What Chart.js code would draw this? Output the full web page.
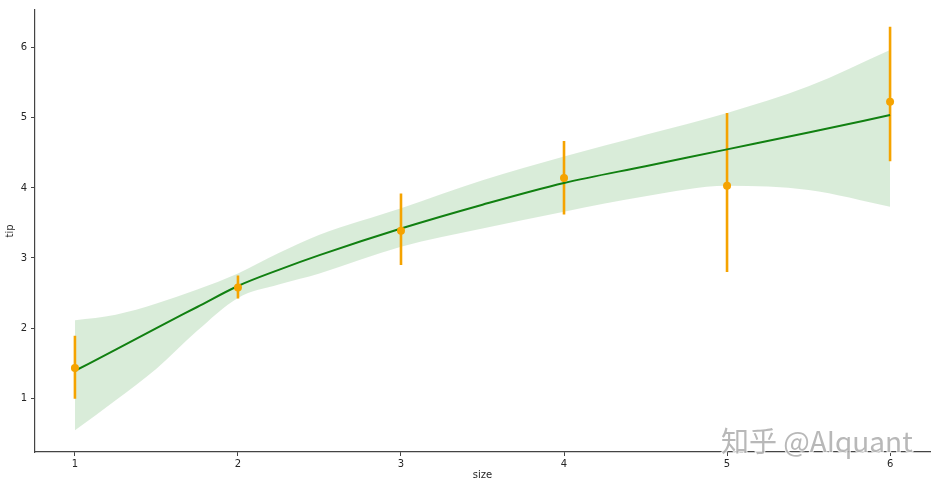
<!DOCTYPE html>
<html>
<head>
<meta charset="utf-8">
<script src="https://cdn.jsdelivr.net/npm/chart.js@4.4.0/dist/chart.umd.min.js"></script>
<style>
  html, body { margin: 0; padding: 0; background: #fff; }
  #wrap { width: 939px; height: 483px; }
</style>
</head>
<body>
<div id="wrap"><canvas id="myChart"></canvas></div>
<script>
// party size vs mean tip, with 95% error bars and a fitted curve + CI band
const sizes = [1, 2, 3, 4, 5, 6];
const tipMean = [1.43, 2.58, 3.39, 4.14, 4.03, 5.23];
const tipLow = [0.99, 2.42, 2.90, 3.62, 2.80, 4.38];
const tipHigh = [1.89, 2.75, 3.92, 4.67, 5.07, 6.30];

const fitX = [1, 1.25, 1.5, 1.75, 2, 2.25, 2.5, 3, 3.5, 4, 4.5, 5, 5.5, 6];
const fitY = [1.39, 1.69, 2.00, 2.30, 2.60, 2.83, 3.04, 3.42, 3.76, 4.07, 4.31, 4.55, 4.79, 5.04];
const bandHigh = [2.11, 2.19, 2.35, 2.55, 2.78, 3.07, 3.33, 3.71, 4.11, 4.45, 4.76, 5.07, 5.45, 5.97];
const bandLow = [0.54, 0.97, 1.42, 1.96, 2.43, 2.62, 2.78, 3.16, 3.42, 3.66, 3.88, 4.03, 3.97, 3.73];

const tickValues = [1, 2, 3, 4, 5, 6];

const toPts = (xs, ys) => xs.map((x, i) => ({ x: x, y: ys[i] }));

const errPts = [];
sizes.forEach((s, i) => {
  errPts.push({ x: s, y: tipLow[i] });
  errPts.push({ x: s, y: tipHigh[i] });
  errPts.push({ x: s, y: null });
});

const watermark = {
  id: "watermark",
  afterDraw(chart) {
    const ctx = chart.ctx;
    ctx.save();
    ctx.font = "28px 'Noto Sans CJK SC'";
    ctx.textAlign = "left";
    ctx.textBaseline = "alphabetic";
    ctx.lineWidth = 2;
    ctx.strokeStyle = "rgba(255,255,255,0.85)";
    ctx.strokeText("知乎 @AIquant", 721, 452);
    ctx.fillStyle = "rgba(160,160,160,0.75)";
    ctx.fillText("知乎 @AIquant", 721, 452);
    ctx.restore();
  },
};

const axisColor = "#444";
const tickFont = { family: "'DejaVu Sans'", size: 10 };

const config = {
  type: "line",
  data: {
    datasets: [
      {
        label: "ci high",
        data: toPts(fitX, bandHigh),
        borderWidth: 0,
        pointRadius: 0,
        fill: "+1",
        backgroundColor: "rgba(0,128,0,0.15)",
        cubicInterpolationMode: "monotone",
        order: 4,
      },
      {
        label: "ci low",
        data: toPts(fitX, bandLow),
        borderWidth: 0,
        pointRadius: 0,
        fill: false,
        cubicInterpolationMode: "monotone",
        order: 4,
      },
      {
        label: "fit",
        data: toPts(fitX, fitY),
        borderColor: "#118011",
        borderWidth: 2,
        pointRadius: 0,
        fill: false,
        cubicInterpolationMode: "monotone",
        order: 1,
      },
      {
        label: "error",
        data: errPts,
        borderColor: "#f5a300",
        borderWidth: 2.6,
        pointRadius: 0,
        spanGaps: false,
        fill: false,
        order: 2,
      },
      {
        label: "mean",
        data: toPts(sizes, tipMean),
        showLine: false,
        pointRadius: 4,
        pointBackgroundColor: "#f5a300",
        pointBorderWidth: 0,
        order: 0,
      },
    ],
  },
  options: {
    responsive: true,
    maintainAspectRatio: false,
    animation: false,
    layout: { padding: { left: 0, right: 9, top: 10, bottom: 0 } },
    plugins: {
      legend: { display: false },
      tooltip: { enabled: false },
    },
    scales: {
      x: {
        type: "linear",
        min: 0.755,
        max: 6.245,
        afterBuildTicks: (s) => { s.ticks = tickValues.map((v) => ({ value: v })); },
        afterFit: (s) => { s.height = 31; },
        grid: { drawOnChartArea: false, drawTicks: true, tickLength: 4, color: axisColor },
        border: { display: true, color: axisColor, width: 1.2 },
        ticks: { color: "#262626", font: tickFont, padding: 2, maxRotation: 0 },
        title: { display: true, text: "size", color: "#262626", font: tickFont, padding: { top: 0, bottom: 2 } },
      },
      y: {
        min: 0.23,
        max: 6.54,
        afterBuildTicks: (s) => { s.ticks = tickValues.map((v) => ({ value: v })); },
        afterFit: (s) => { s.width = 35; },
        grid: { drawOnChartArea: false, drawTicks: true, tickLength: 4, color: axisColor },
        border: { display: true, color: axisColor, width: 1.2 },
        ticks: { color: "#262626", font: tickFont, padding: 4 },
        title: { display: true, text: "tip", color: "#262626", font: tickFont, padding: { top: 4, bottom: 0 } },
      },
    },
  },
  plugins: [watermark],
};

const myChart = new Chart(document.getElementById("myChart"), config);
</script>
</body>
</html>
